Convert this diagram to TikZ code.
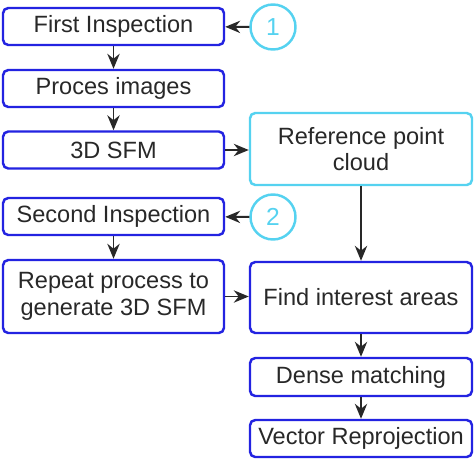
\documentclass[tikz,border=0pt]{standalone}
\usepackage{fontspec}
\setmainfont{Liberation Sans}
\usepackage{tikz}
\usetikzlibrary{arrows.meta, positioning, shapes}

\definecolor{boxblue}{RGB}{35,35,225}
\definecolor{ringcyan}{RGB}{85,210,240}
\definecolor{inkgray}{RGB}{40,40,40}

\begin{document}
\begin{tikzpicture}[
            box/.style={rectangle, rounded corners=3pt, draw=boxblue, fill=white, line width=1.4pt, minimum width=4.42cm, minimum height=0.74cm, inner sep=2pt, align=center, text=inkgray, font=\fontsize{13.4}{15}\selectfont},
            refbox/.style={box, draw=ringcyan},
            ring/.style={circle, draw=ringcyan, line width=1.4pt, minimum size=0.9cm, inner sep=0pt, text=ringcyan, font=\fontsize{14}{16}\selectfont},
            arrow/.style={-{Stealth[length=8.5pt, width=7pt]}, line width=1.1pt, inkgray}
        ]
            \useasboundingbox (0,0) rectangle (9.48,9.2);

            % left column
            \node[box] (first) at (2.27, 8.67) {First Inspection};
            \node[box] (proc) at (2.27, 7.43) {Proces images};
            \node[box] (sfm) at (2.27, 6.20) {3D SFM};
            \node[box] (second) at (2.27, 4.87) {Second Inspection};
            \node[box, minimum height=1.46cm] (repeat) at (2.27, 3.27) {Repeat process to\\generate 3D SFM};

            % markers
            \node[ring] (c1) at (5.46, 8.66) {1};
            \node[ring] (c2) at (5.46, 4.86) {2};

            % right column
            \node[refbox, minimum width=4.44cm, minimum height=1.44cm] (ref) at (7.22, 6.22) {Reference point\\cloud};
            \node[box, minimum width=4.44cm, minimum height=1.42cm] (find) at (7.22, 3.25) {Find interest areas};
            \node[box, minimum width=4.44cm, minimum height=0.76cm] (dense) at (7.22, 1.66) {Dense matching};
            \node[box, minimum width=4.44cm] (vector) at (7.22, 0.43) {Vector Reprojection};

            \draw[arrow] (c1) -- (first);
            \draw[arrow] (first) -- (proc);
            \draw[arrow] (proc) -- (sfm);
            \draw[arrow] (sfm) -- (sfm -| ref.west);
            \draw[arrow] (c2) -- (second);
            \draw[arrow] (second) -- (repeat);
            \draw[arrow] (repeat) -- (repeat -| find.west);
            \draw[arrow] (ref) -- (find);
            \draw[arrow] (find) -- (dense);
            \draw[arrow] (dense) -- (vector);
        \end{tikzpicture}
\end{document}
